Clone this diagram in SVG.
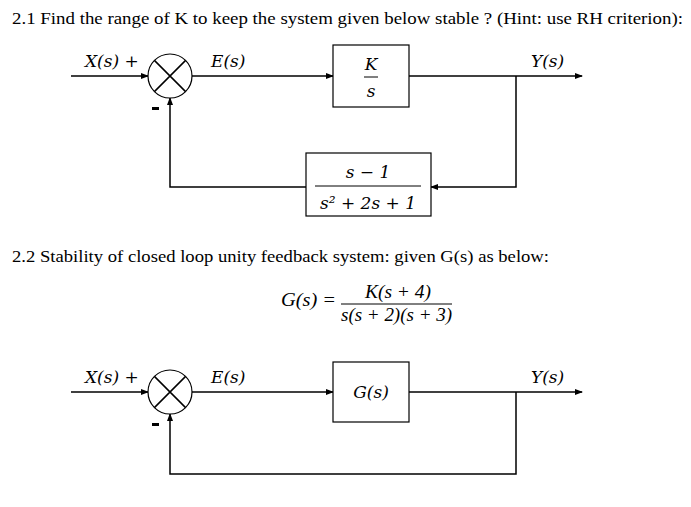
<svg xmlns="http://www.w3.org/2000/svg" width="691" height="507" viewBox="0 0 691 507">
<style>
.t{font-family:"Liberation Serif",serif;font-size:17px;fill:#000}
.e{font-family:"Liberation Serif",serif;font-style:italic;font-size:18px;fill:#000}
.m{font-family:"DejaVu Serif",serif;font-style:italic;font-size:17px;fill:#000}
.ln{stroke:#000;stroke-width:1.5;fill:none}
.bx{stroke:#000;stroke-width:1.2;fill:#fff}
</style>
<defs><marker id="a" markerWidth="8" markerHeight="8" refX="7" refY="4" orient="auto" markerUnits="userSpaceOnUse"><path d="M0,1 L8,4 L0,7 Z" fill="#000"/></marker></defs>
<rect width="691" height="507" fill="#fff"/>
<text class="t" x="12" y="24" textLength="671" lengthAdjust="spacingAndGlyphs">2.1 Find the range of K to keep the system given below stable ? (Hint: use RH criterion):</text>
<text class="t" x="12" y="262" textLength="537" lengthAdjust="spacingAndGlyphs">2.2 Stability of closed loop unity feedback system: given G(s) as below:</text>
<g id="eq">
<text class="e" x="281" y="306" textLength="55" lengthAdjust="spacingAndGlyphs">G(s) =</text>
<text class="e" x="365" y="298" textLength="66" lengthAdjust="spacingAndGlyphs">K(s + 4)</text>
<line x1="341" y1="304" x2="452" y2="304" stroke="#000" stroke-width="1"/>
<text class="e" x="341" y="321" textLength="111" lengthAdjust="spacingAndGlyphs">s(s + 2)(s + 3)</text>
</g>
<g id="connectors">
<line class="ln" x1="71" y1="76" x2="148" y2="76" marker-end="url(#a)"/>
<line class="ln" x1="192" y1="76" x2="333" y2="76" marker-end="url(#a)"/>
<polyline class="ln" points="409,76 582,76" marker-end="url(#a)"/>
<polyline class="ln" points="516,76 516,187 431,187" marker-end="url(#a)"/>
<polyline class="ln" points="306,187 170,187 170,98" marker-end="url(#a)"/>
<line class="ln" x1="71" y1="392" x2="148" y2="392" marker-end="url(#a)"/>
<line class="ln" x1="192" y1="392" x2="333" y2="392" marker-end="url(#a)"/>
<polyline class="ln" points="409,392 582,392" marker-end="url(#a)"/>
<polyline class="ln" points="516,392 516,474 170,474 170,414" marker-end="url(#a)"/>
</g>
<g id="sum1"><circle class="bx" cx="170" cy="76" r="22"/><path class="ln" d="M154.4,60.4 L185.6,91.6 M185.6,60.4 L154.4,91.6"/></g>
<g id="sum2"><circle class="bx" cx="170" cy="392" r="22"/><path class="ln" d="M154.4,376.4 L185.6,407.6 M185.6,376.4 L154.4,407.6"/></g>
<g id="labels">
<text class="m" x="85" y="67">X(s) +</text>
<text class="m" x="211" y="67">E(s)</text>
<text class="m" x="531" y="67">Y(s)</text>
<rect x="152" y="107" width="7" height="3" fill="#000"/>
<text class="m" x="85" y="383">X(s) +</text>
<text class="m" x="211" y="383">E(s)</text>
<text class="m" x="531" y="383">Y(s)</text>
<rect x="152" y="423" width="7" height="3" fill="#000"/>
</g>
<g id="Ks"><rect class="bx" x="333" y="45" width="76" height="62"/>
<text class="m" x="371" y="70" text-anchor="middle">K</text>
<line x1="364" y1="77" x2="378" y2="77" stroke="#000" stroke-width="1"/>
<text class="m" x="371" y="97" text-anchor="middle">s</text></g>
<g id="H"><rect class="bx" x="306" y="153" width="125" height="63"/>
<text class="m" x="368" y="178" text-anchor="middle">s − 1</text>
<line x1="315" y1="186" x2="421" y2="186" stroke="#000" stroke-width="1"/>
<text class="m" x="368" y="209" text-anchor="middle">s² + 2s + 1</text></g>
<g id="G"><rect class="bx" x="333" y="362" width="76" height="60"/>
<text class="m" x="371" y="398" text-anchor="middle">G(s)</text></g>
</svg>
